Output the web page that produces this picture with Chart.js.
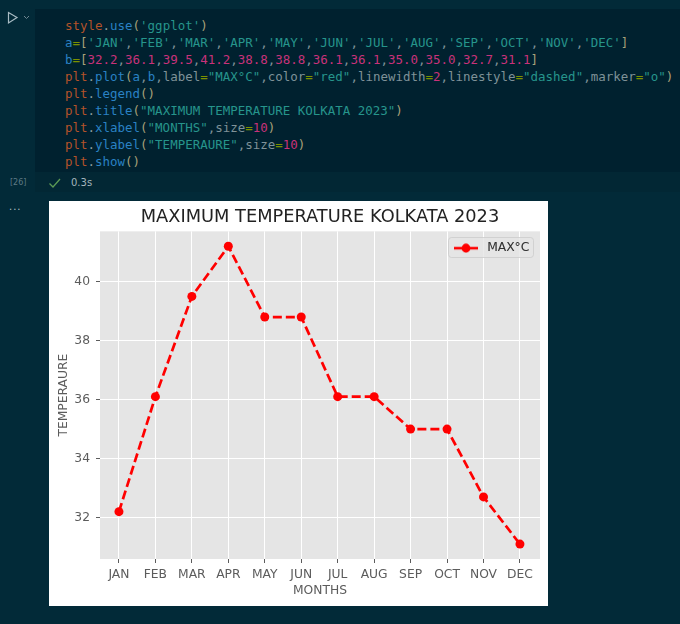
<!DOCTYPE html>
<html lang="en">
<head>
  <meta charset="UTF-8">
  <title>Maximum Temperature Kolkata 2023</title>
  <script src="https://cdn.jsdelivr.net/npm/chart.js"></script>
  <style>
    html, body { margin: 0; padding: 0; width: 680px; height: 624px; overflow: hidden; background: #022a38; }
    #cell { position: absolute; left: 35px; top: 9px; width: 645px; height: 183px; background: #00212f; }
    #foot { position: absolute; left: 35px; top: 172px; width: 645px; height: 20px; background: #022734; }
    pre {
      position: absolute; left: 65px; top: 18px; margin: 0;
      font: 12.47px/16.95px "DejaVu Sans Mono", monospace; color: #7f9298;
    }
    .m { color: #b4532a; } .f { color: #2a82c4; } .s { color: #26958c; }
    .n { color: #c9327a; } .e { color: #7c9200; } .p { color: #8a9a9c; } .b { color: #a8a27a; }
    .t { position: absolute; white-space: pre; font-family: "DejaVu Sans", sans-serif; }
    #box { position: absolute; left: 49px; top: 201px; width: 499px; height: 405px; background: #fff; }
    canvas { position: absolute; left: 49px; top: 201px; }
    svg { position: absolute; }
  </style>
</head>
<body>
  <div id="cell"></div>
  <div id="foot"></div>
  <svg style="left:5px;top:10px" width="30" height="16">
    <path d="M3.5 2.5 L3.5 13 L12 7.5 Z" fill="none" stroke="#a9bcc4" stroke-width="1.2"/>
    <path d="M19 6 L21.5 8.5 L24 6" fill="none" stroke="#708791" stroke-width="1"/>
  </svg>
  <pre><span class="m">style</span><span class="p">.</span><span class="f">use</span><span class="b">(</span><span class="s">'ggplot'</span><span class="b">)</span>
<span class="f">a</span><span class="e">=</span><span class="b">[</span><span class="s">'JAN'</span>,<span class="s">'FEB'</span>,<span class="s">'MAR'</span>,<span class="s">'APR'</span>,<span class="s">'MAY'</span>,<span class="s">'JUN'</span>,<span class="s">'JUL'</span>,<span class="s">'AUG'</span>,<span class="s">'SEP'</span>,<span class="s">'OCT'</span>,<span class="s">'NOV'</span>,<span class="s">'DEC'</span><span class="b">]</span>
<span class="f">b</span><span class="e">=</span><span class="b">[</span><span class="n">32.2</span>,<span class="n">36.1</span>,<span class="n">39.5</span>,<span class="n">41.2</span>,<span class="n">38.8</span>,<span class="n">38.8</span>,<span class="n">36.1</span>,<span class="n">36.1</span>,<span class="n">35.0</span>,<span class="n">35.0</span>,<span class="n">32.7</span>,<span class="n">31.1</span><span class="b">]</span>
<span class="m">plt</span><span class="p">.</span><span class="f">plot</span><span class="b">(</span><span class="f">a</span>,<span class="f">b</span>,label<span class="e">=</span><span class="s">"MAX°C"</span>,color<span class="e">=</span><span class="s">"red"</span>,linewidth<span class="e">=</span><span class="n">2</span>,linestyle<span class="e">=</span><span class="s">"dashed"</span>,marker<span class="e">=</span><span class="s">"o"</span><span class="b">)</span>
<span class="m">plt</span><span class="p">.</span><span class="f">legend</span><span class="b">()</span>
<span class="m">plt</span><span class="p">.</span><span class="f">title</span><span class="b">(</span><span class="s">"MAXIMUM TEMPERATURE KOLKATA 2023"</span><span class="b">)</span>
<span class="m">plt</span><span class="p">.</span><span class="f">xlabel</span><span class="b">(</span><span class="s">"MONTHS"</span>,size<span class="e">=</span><span class="n">10</span><span class="b">)</span>
<span class="m">plt</span><span class="p">.</span><span class="f">ylabel</span><span class="b">(</span><span class="s">"TEMPERAURE"</span>,size<span class="e">=</span><span class="n">10</span><span class="b">)</span>
<span class="m">plt</span><span class="p">.</span><span class="f">show</span><span class="b">()</span></pre>
  <div class="t" style="left:10px;top:178px;font-size:8px;color:#5f7a85">[26]</div>
  <svg style="left:48px;top:177px" width="14" height="12"><path d="M1.5 6.5 L5 10 L12 2" fill="none" stroke="#5c9a55" stroke-width="1.3"/></svg>
  <div class="t" style="left:71px;top:177px;font-size:10px;color:#a3b5bc">0.3s</div>
  <div class="t" style="left:9px;top:202px;font-size:10px;line-height:10px;letter-spacing:1px;color:#b3c3c9">...</div>
  <div id="box"></div>
  <canvas id="tempChart" width="499" height="405"></canvas>

  <script>
    const months = ['JAN','FEB','MAR','APR','MAY','JUN','JUL','AUG','SEP','OCT','NOV','DEC'];
    const maxTemp = [32.2,36.1,39.5,41.2,38.8,38.8,36.1,36.1,35.0,35.0,32.7,31.1];
    const yTicks = [32,34,36,38,40];
    const seriesName = 'MAX°C';
    const chartTitle = 'MAXIMUM TEMPERATURE KOLKATA 2023';
    const fontName = '"DejaVu Sans", sans-serif';
    const tickGray = '#5c5c5c';

    // line + dot sample for the legend, same as matplotlib draws it
    const icon = document.createElement('canvas');
    icon.width = 28; icon.height = 10;
    const ic = icon.getContext('2d');
    ic.strokeStyle = 'red'; ic.lineWidth = 2.5;
    ic.beginPath(); ic.moveTo(1, 5); ic.lineTo(25, 5); ic.stroke();
    ic.fillStyle = 'red';
    ic.beginPath(); ic.arc(13, 5, 4.4, 0, Math.PI * 2); ic.fill();

    const plotBack = {
      id: 'plotBack',
      afterLayout(chart) {
        // chartArea legends stick to the left, move it to the upper right corner
        const l = chart.legend;
        l.left = 399; l.right = 485; l.top = 36; l.bottom = 57;
        l.width = l.right - l.left; l.height = l.bottom - l.top;
      },
      beforeDraw(chart) {
        const a = chart.chartArea;
        chart.ctx.fillStyle = '#e5e5e5';
        chart.ctx.fillRect(a.left, a.top, a.right - a.left, a.bottom - a.top);
      },
      beforeDatasetsDraw(chart) {
        // frame over the grid, then the legend again on top of it
        const l = chart.legend, c = chart.ctx;
        c.save();
        c.fillStyle = 'rgba(229,229,229,0.8)';
        c.strokeStyle = 'rgba(204,204,204,0.8)';
        c.beginPath();
        c.roundRect(l.left + 0.5, l.top + 0.5, l.width - 1, l.height - 1, 3);
        c.fill(); c.stroke();
        c.restore();
        l.draw();
      }
    };

    new Chart(document.getElementById('tempChart'), {
      type: 'line',
      data: {
        datasets: [{
          label: seriesName,
          data: maxTemp.map((v, i) => ({ x: i, y: v })),
          borderColor: 'red',
          backgroundColor: 'red',
          borderWidth: 2.7,
          borderDash: [9, 4],
          pointRadius: 4.5,
          pointBorderWidth: 0,
          tension: 0
        }]
      },
      options: {
        responsive: false,
        animation: false,
        devicePixelRatio: 1,
        layout: { padding: { top: 0, right: 8, bottom: 7, left: 0 } },
        plugins: {
          title: {
            display: true, text: chartTitle, color: '#222222', fullSize: false,
            font: { family: fontName, size: 17.8, weight: 'normal' },
            padding: { top: 6, bottom: 3 }
          },
          tooltip: { enabled: false },
          legend: {
            position: 'chartArea',
            align: 'start',
            labels: {
              usePointStyle: true,
              pointStyleWidth: 28,
              color: '#333333',
              font: { family: fontName, size: 12.3 },
              padding: 5,
              generateLabels: () => [{ text: seriesName, pointStyle: icon, fontColor: '#333333', datasetIndex: 0 }]
            }
          }
        },
        scales: {
          x: {
            type: 'linear',
            min: -0.52,
            max: 11.55,
            afterBuildTicks: s => { s.ticks = months.map((m, i) => ({ value: i })); },
            afterTickToLabelConversion: s => { s.ticks.forEach((t, i) => { t.label = months[i]; }); },
            afterFit: s => { s.height = 40; },
            border: { display: false },
            grid: { color: '#ffffff', lineWidth: 1, tickColor: tickGray, tickLength: 4 },
            ticks: { color: tickGray, padding: 4, maxRotation: 0, autoSkip: false, font: { family: fontName, size: 12.3 } },
            title: { display: true, text: 'MONTHS', color: tickGray, padding: { top: 0, bottom: 1 }, font: { family: fontName, size: 12.3 } }
          },
          y: {
            min: 30.595,
            max: 41.705,
            afterBuildTicks: s => { s.ticks = yTicks.map(v => ({ value: v })); },
            afterFit: s => { s.width = 51; },
            border: { display: false },
            grid: { color: '#ffffff', lineWidth: 1, tickColor: tickGray, tickLength: 4 },
            ticks: { color: tickGray, padding: 6, font: { family: fontName, size: 12.3 } },
            title: { display: true, text: 'TEMPERAURE', color: tickGray, padding: { top: 7, bottom: 0 }, font: { family: fontName, size: 12.3 } }
          }
        }
      },
      plugins: [plotBack]
    });
  </script>
</body>
</html>
